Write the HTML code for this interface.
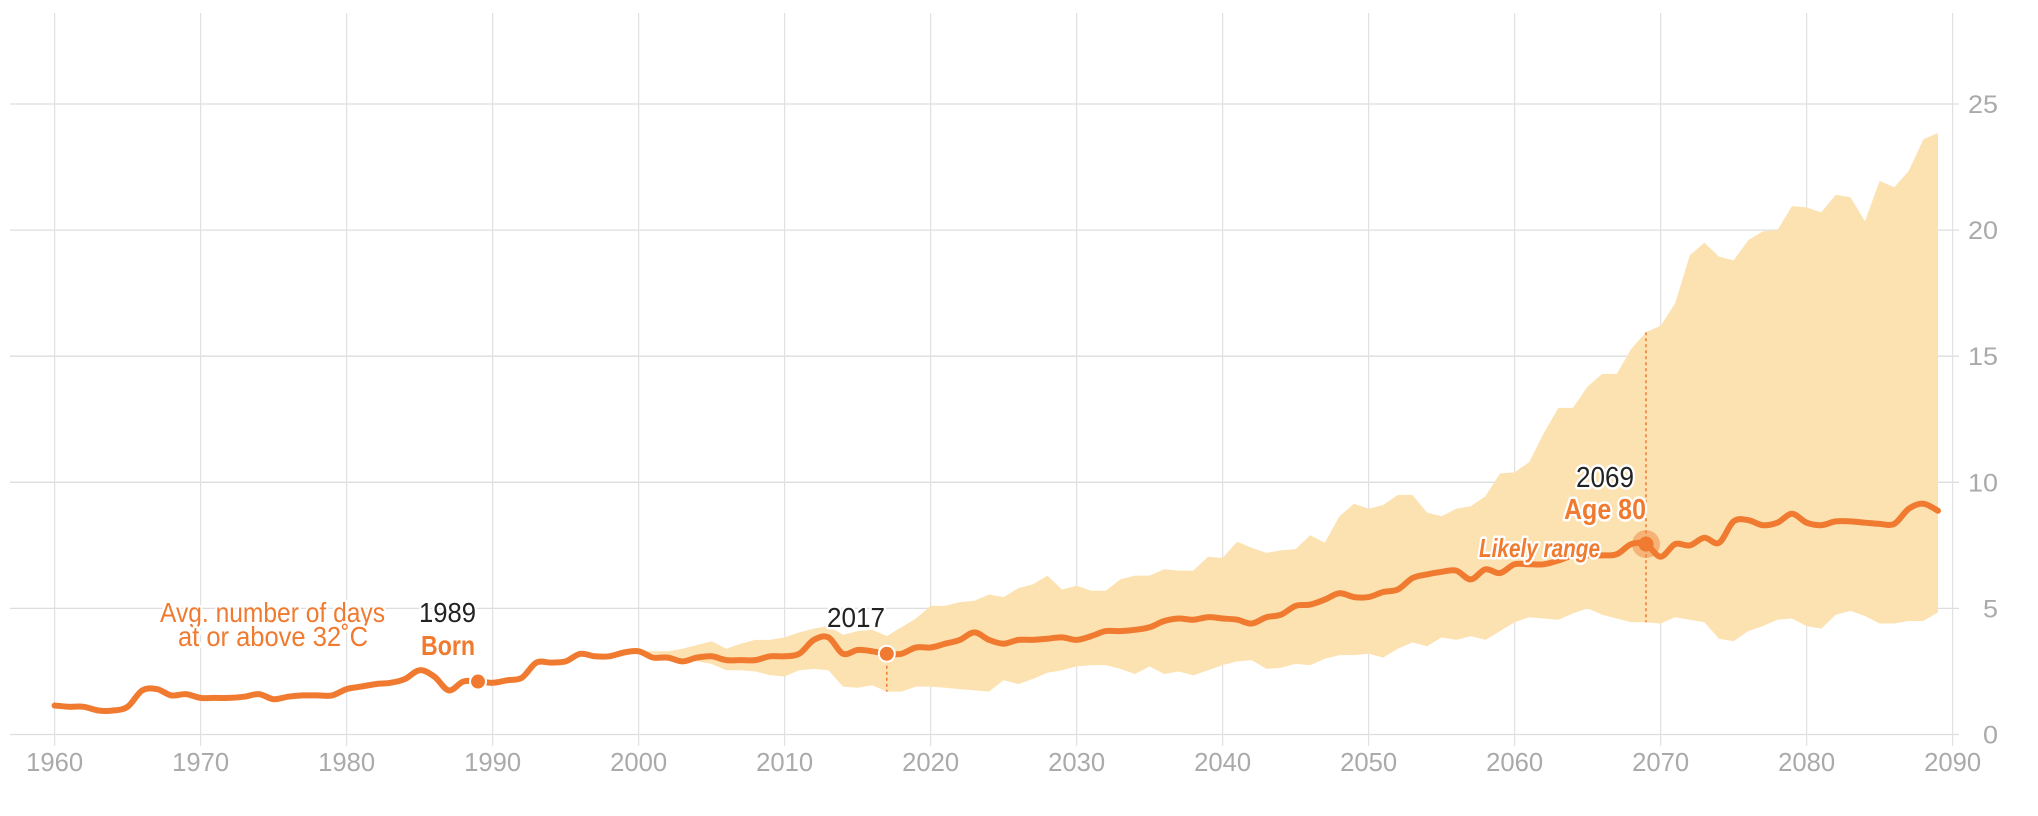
<!DOCTYPE html>
<html><head><meta charset="utf-8"><style>
html,body{margin:0;padding:0;background:#fff;}
svg{display:block;font-family:"Liberation Sans Narrow","Liberation Sans",sans-serif;}
</style></head><body>
<svg id="c" width="2038" height="816" xmlns="http://www.w3.org/2000/svg"></svg>
<script>
const X=y=>54.6+(y-1960)*146.0/10, Y=v=>734.5-v*25.22;
const med=[1.15,1.1,1.1,0.95,0.95,1.1,1.75,1.8,1.55,1.6,1.45,1.45,1.45,1.5,1.6,1.4,1.5,1.55,1.55,1.55,1.8,1.9,2.0,2.05,2.2,2.55,2.3,1.75,2.1,2.1,2.05,2.15,2.25,2.85,2.85,2.9,3.2,3.1,3.1,3.25,3.3,3.05,3.05,2.9,3.05,3.1,2.95,2.95,2.95,3.1,3.1,3.2,3.75,3.85,3.2,3.35,3.3,3.2,3.2,3.45,3.45,3.6,3.75,4.05,3.75,3.6,3.75,3.75,3.8,3.85,3.75,3.9,4.1,4.1,4.15,4.25,4.5,4.6,4.55,4.65,4.6,4.55,4.4,4.65,4.75,5.1,5.15,5.35,5.6,5.45,5.45,5.65,5.75,6.2,6.35,6.45,6.5,6.15,6.55,6.4,6.75,6.75,6.75,6.9,7.1,7.1,7.1,7.15,7.55,7.55,7.05,7.55,7.5,7.8,7.6,8.45,8.5,8.3,8.4,8.75,8.4,8.3,8.45,8.45,8.4,8.35,8.35,8.95,9.15,8.87];
const up=[3.3,3.3,3.3,3.4,3.55,3.7,3.4,3.6,3.75,3.75,3.85,4.05,4.2,4.3,3.95,4.1,4.15,3.9,4.25,4.6,5.1,5.1,5.25,5.3,5.55,5.45,5.8,5.95,6.3,5.75,5.9,5.7,5.7,6.15,6.3,6.3,6.55,6.5,6.5,7.05,7.0,7.65,7.4,7.2,7.3,7.35,7.9,7.6,8.65,9.15,8.95,9.1,9.5,9.5,8.8,8.65,8.95,9.05,9.45,10.35,10.4,10.8,11.95,12.95,12.95,13.8,14.3,14.3,15.3,15.95,16.2,17.1,19.0,19.5,18.95,18.8,19.6,19.95,20.0,20.95,20.9,20.7,21.4,21.3,20.35,21.95,21.7,22.35,23.6,23.85];
const lo=[3.3,3.2,3.1,3.0,2.9,2.8,2.55,2.55,2.5,2.35,2.3,2.55,2.6,2.55,1.9,1.85,1.95,1.7,1.7,1.9,1.9,1.85,1.8,1.75,1.7,2.15,2.0,2.2,2.45,2.55,2.7,2.75,2.75,2.6,2.4,2.7,2.4,2.5,2.35,2.55,2.75,2.9,2.95,2.6,2.65,2.8,2.75,3.0,3.15,3.15,3.2,3.05,3.4,3.65,3.5,3.85,3.75,3.9,3.75,4.1,4.45,4.65,4.6,4.55,4.8,5.0,4.75,4.6,4.45,4.45,4.4,4.65,4.55,4.45,3.8,3.7,4.1,4.3,4.55,4.6,4.3,4.2,4.75,4.9,4.7,4.4,4.4,4.5,4.5,4.85];
function smooth(p){let d=`M${p[0][0].toFixed(1)},${p[0][1].toFixed(1)}`;
 for(let i=0;i<p.length-1;i++){const a=p[Math.max(0,i-1)],b=p[i],c=p[i+1],e=p[Math.min(p.length-1,i+2)];
  const t=1/6;const c1=[b[0]+(c[0]-a[0])*t,b[1]+(c[1]-a[1])*t],c2=[c[0]-(e[0]-b[0])*t,c[1]-(e[1]-b[1])*t];
  d+=`C${c1[0].toFixed(1)},${c1[1].toFixed(1)} ${c2[0].toFixed(1)},${c2[1].toFixed(1)} ${c[0].toFixed(1)},${c[1].toFixed(1)}`;}
 return d;}
let s='';
for(let v=0;v<=25;v+=5){s+=`<line x1="10" x2="1959" y1="${Y(v)}" y2="${Y(v)}" stroke="#ddd" stroke-width="1.3"/>`;
 const w=v<10?15:30;
 s+=`<text x="1998" y="${Y(v)+9}" font-size="25" fill="#aaa" text-anchor="end" textLength="${w}" lengthAdjust="spacingAndGlyphs">${v}</text>`;}
for(let y=1960;y<=2090;y+=10){s+=`<line x1="${X(y)}" x2="${X(y)}" y1="13" y2="746" stroke="#e2e2e2" stroke-width="1.3"/>`;
 s+=`<text x="${X(y)}" y="771" font-size="26" fill="#aaa" text-anchor="middle" textLength="57" lengthAdjust="spacingAndGlyphs">${y}</text>`;}
let d='M'+up.map((v,i)=>X(2000+i).toFixed(1)+','+Y(v).toFixed(1)).join('L');
d+='L'+lo.map((v,i)=>[X(2000+i).toFixed(1),Y(v).toFixed(1)]).reverse().map(p=>p.join(',')).join('L')+'Z';
s+=`<path d="${d}" fill="#fce2b1"/>`;
s+=`<line x1="${X(2017)}" x2="${X(2017)}" y1="${Y(3.2)}" y2="${Y(1.7)}" stroke="#f07b30" stroke-width="1.5" stroke-dasharray="3,3"/>`;
s+=`<line x1="${X(2069)}" x2="${X(2069)}" y1="${Y(15.95)}" y2="${Y(4.45)}" stroke="#f07b30" stroke-width="1.5" stroke-dasharray="3,3"/>`;
s+=`<path d="${smooth(med.map((v,i)=>[X(1960+i),Y(v)]))}" fill="none" stroke="#f07b30" stroke-width="6" stroke-linejoin="round" stroke-linecap="round"/>`;
s+=`<circle cx="${X(1989)}" cy="${Y(2.1)}" r="8" fill="#f07b30" stroke="#fff" stroke-width="2"/>`;
s+=`<circle cx="${X(2017)}" cy="${Y(3.2)}" r="8" fill="#f07b30" stroke="#fff" stroke-width="2"/>`;
s+=`<circle cx="${X(2069)}" cy="${Y(7.55)}" r="14" fill="#f07b30" fill-opacity="0.45"/>`;
s+=`<circle cx="${X(2069)}" cy="${Y(7.55)}" r="7.5" fill="#f07b30"/>`;
const halo='stroke="#fff" stroke-width="5" paint-order="stroke" stroke-linejoin="round" lengthAdjust="spacingAndGlyphs"';
s+=`<text x="160" y="622" font-size="28" fill="#f07b30" textLength="225" ${halo}>Avg. number of days</text>`;
s+=`<text x="178" y="646" font-size="28" fill="#f07b30" textLength="190" ${halo}>at or above 32˚C</text>`;
s+=`<text x="419" y="622" font-size="28" fill="#222" textLength="57" ${halo}>1989</text>`;
s+=`<text x="421" y="655" font-size="28" font-weight="bold" fill="#f07b30" textLength="54" ${halo}>Born</text>`;
s+=`<text x="827" y="627" font-size="28" fill="#222" textLength="58" ${halo}>2017</text>`;
s+=`<text x="1576" y="487" font-size="29" fill="#222" textLength="58" ${halo}>2069</text>`;
s+=`<text x="1564" y="519" font-size="29" font-weight="bold" fill="#f07b30" textLength="82" ${halo}>Age 80</text>`;
s+=`<text x="1479" y="557" font-size="26" font-weight="bold" font-style="italic" fill="#f07b30" textLength="121" ${halo}>Likely range</text>`;
document.getElementById('c').innerHTML=s;
</script>
</body></html>
